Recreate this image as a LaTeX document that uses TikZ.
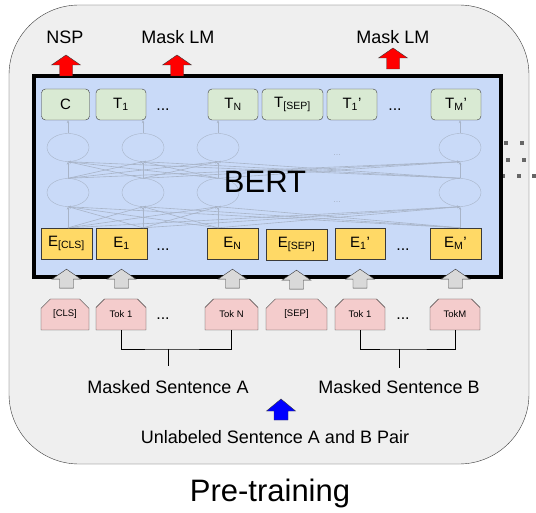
\documentclass[tikz,border=0pt]{standalone}
\usepackage{fontspec}
\setmainfont{Liberation Sans}
\usetikzlibrary{arrows.meta,shapes.misc,shapes.geometric}

\definecolor{outerfill}{HTML}{EFEFEF}
\definecolor{bertblue}{HTML}{C9DAF8}
\definecolor{tgreen}{HTML}{D9EAD3}
\definecolor{eyellow}{HTML}{FFD966}
\definecolor{tokpink}{HTML}{F4CCCC}
\definecolor{boxline}{HTML}{3A3A3A}
\definecolor{faintline}{HTML}{A8B4C8}
\definecolor{arrgray}{HTML}{D9D9D9}

\tikzset{
  tbox/.style={draw=boxline, fill=tgreen, rounded corners=4pt, minimum width=50pt, minimum height=31pt, inner sep=0pt, font=\fontsize{15}{17}\selectfont},
  ebox/.style={draw=boxline, fill=eyellow, minimum width=51pt, minimum height=31pt, inner sep=0pt, font=\fontsize{15}{17}\selectfont},
  tokbox/.style={chamfered rectangle, chamfered rectangle corners={north west,north east}, chamfered rectangle xsep=5pt, chamfered rectangle ysep=5pt, draw=boxline, fill=tokpink, minimum width=50pt, minimum height=31pt, inner sep=0pt, font=\fontsize{9.5}{11}\selectfont},
  dots/.style={inner sep=0pt, font=\fontsize{16}{18}\selectfont},
  neuron/.style={ellipse, draw=faintline, minimum width=42pt, minimum height=28pt, inner sep=0pt},
  faint/.style={draw=faintline, line width=0.6pt, -{Stealth[length=3pt,width=2.5pt]}},
  lbl/.style={inner sep=1pt, font=\fontsize{18}{20}\selectfont},
  big/.style={inner sep=1pt, font=\fontsize{31}{34}\selectfont},
  bracket/.style={draw=black, line width=0.7pt},
}

% style, tip, shaft half width, head height, length
\newcommand{\blockarrow}[5]{\draw[#1] (#2) -- ++(14.5,#4) -- ++({#3-14.5},0) -- ++(0,{#5-#4}) -- ++({-2*#3},0) -- ++(0,{#4-#5}) -- ++({#3-14.5},0) -- cycle;}

\begin{document}
\begin{tikzpicture}[x=1pt, y=-1pt]
\useasboundingbox (0,0) rectangle (536,513);

% panel
\draw[fill=outerfill, draw=boxline, rounded corners=70pt] (9,5) rectangle (529,464);
\foreach \x/\y in {506/143, 522/143, 508/160, 524/160, 503/176, 519/176, 534/176}
  \fill[black!60] (\x-2,\y-2) rectangle (\x+2,\y+2);

% BERT box
\draw[fill=bertblue, line width=4pt] (33.5,76) rectangle (500.5,277);

% hidden layers
\foreach \x [count=\i] in {68,143,218,460} {
  \node[neuron] (h1-\i) at (\x,192.5) {};
  \node[neuron] (h2-\i) at (\x,147.5) {};
}
\node[dots, text=faintline, font=\fontsize{9}{10}\selectfont] (hdA) at (337,155) {...};
\node[dots, text=faintline, font=\fontsize{9}{10}\selectfont] (hdB) at (337,202) {...};

% output row
\node[tbox, minimum width=48pt] (t0) at (65.5,104.5) {C};
\node[tbox] (t1) at (121,104.5) {T\textsubscript{1}};
\node[dots] (tdA) at (163,110) {...};
\node[tbox] (tN) at (233,104.5) {T\textsubscript{N}};
\node[tbox, minimum width=61pt] (tsep) at (292.5,104.5) {T\textsubscript{[SEP]}};
\node[tbox] (t1b) at (352,104.5) {T\textsubscript{1}’};
\node[dots] (tdB) at (395,110) {...};
\node[tbox] (tMb) at (456,104.5) {T\textsubscript{M}’};

% embedding row
\node[ebox] (e0) at (66.5,243.5) {E\textsubscript{[CLS]}};
\node[ebox] (e1) at (121.5,243.5) {E\textsubscript{1}};
\node[dots] (edA) at (163,250) {...};
\node[ebox] (eN) at (232.5,243.5) {E\textsubscript{N}};
\node[ebox, minimum width=61pt] (esep) at (296.5,244.5) {E\textsubscript{[SEP]}};
\node[ebox, minimum width=50pt] (e1b) at (360,243.5) {E\textsubscript{1}’};
\node[dots] (edB) at (403,250) {...};
\node[ebox] (eMb) at (455.5,243.5) {E\textsubscript{M}’};

% connections
\foreach \i in {1,...,4} {
  \foreach \j in {1,...,4} {
    \draw[faint] (h1-\i.south |- e0.north) -- (h1-\j.south);
    \draw[faint] (h1-\i.north) -- (h2-\j.south);
  }
  \draw[faint] (h2-\i.north) -- (h2-\i.north |- t0.south);
}

\node[big] (bert) at (265,182) {BERT};

% outputs
\node[lbl] (nsp) at (65,37) {NSP};
\node[lbl] (mlmA) at (178,37) {Mask LM};
\node[lbl] (mlmB) at (393,37) {Mask LM};
\blockarrow{fill=red, draw=boxline}{66,55}{6.5}{10}{21}
\blockarrow{fill=red, draw=boxline}{177,55}{6.5}{10}{21}
\blockarrow{fill=red, draw=boxline}{393,48}{6.5}{10}{21}

% inputs
\foreach \n in {e0,e1,eN,esep,e1b,eMb} {
  \blockarrow{fill=arrgray, draw=boxline}{[yshift=-10pt]\n.south}{7}{10}{19}
}

\node[tokbox, minimum width=48pt] (k0) at (65,314.5) {[CLS]};
\node[tokbox] (k1) at (121,314.5) {Tok 1};
\node[dots] (kdA) at (163,319) {...};
\node[tokbox, minimum width=53pt] (kN) at (231.5,314.5) {Tok N};
\node[tokbox, minimum width=61pt] (ksep) at (296.5,314.5) {[SEP]};
\node[tokbox] (k1b) at (360,314.5) {Tok 1};
\node[dots] (kdB) at (403,319) {...};
\node[tokbox] (kM) at (455,314.5) {TokM};

% sentences
\coordinate (brA) at (168,349);
\coordinate (brB) at (399,349);
\draw[bracket] (k1.south) |- (brA) -| (kN.south);
\draw[bracket] (brA) -- ++(0,17);
\draw[bracket] (k1b.south) |- (brB) -| (kM.south);
\draw[bracket] (brB) -- ++(0,19);
\node[lbl] (sentA) at (168,387) {Masked Sentence A};
\node[lbl] (sentB) at (399,387) {Masked Sentence B};
\blockarrow{fill=blue, draw=boxline}{281,399}{7}{12}{21}
\node[lbl] (pair) at (275,437) {Unlabeled Sentence A and B Pair};

\node[big] (pretrain) at (270,493) {Pre-training};
\end{tikzpicture}
\end{document}
